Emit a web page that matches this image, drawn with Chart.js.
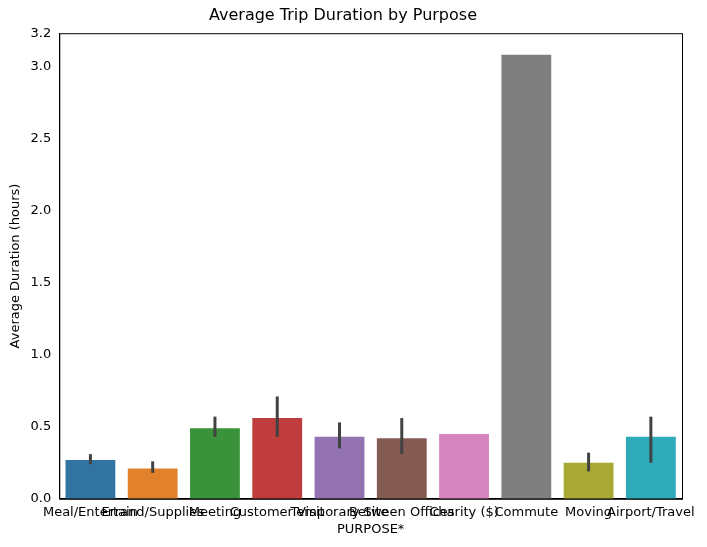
<!DOCTYPE html>
<html><head><meta charset="utf-8">
<script src="https://cdn.jsdelivr.net/npm/chart.js@4/dist/chart.umd.min.js"></script>
<style>body{margin:0;background:#fff}</style></head>
<body><canvas id="c" width="707" height="547"></canvas>
<script>
const categories=["Meal/Entertain","Errand/Supplies","Meeting","Customer Visit","Temporary Site","Between Offices","Charity ($)","Commute","Moving","Airport/Travel"];
const values=[0.27,0.21,0.49,0.56,0.43,0.42,0.45,3.08,0.25,0.43];
const errLow=[0.24,0.18,0.43,0.43,0.35,0.31,null,null,0.19,0.25];
const errHigh=[0.31,0.26,0.57,0.71,0.53,0.56,null,null,0.32,0.57];
const colors=["#3274a1","#e1812c","#3a923a","#c03d3e","#9372b2","#845b53","#d684bd","#7f7f7f","#a9aa35","#2eabb8"];
const F="DejaVu Sans";
const extras={id:'extras',afterDatasetsDraw(ch){
 const c=ch.ctx,x=ch.scales.x,y=ch.scales.y;
 c.save();c.strokeStyle='#424242';c.lineWidth=3;
 errLow.forEach((lo,i)=>{if(lo==null)return;const px=x.getPixelForValue(i);
  c.beginPath();c.moveTo(px,y.getPixelForValue(lo));c.lineTo(px,y.getPixelForValue(errHigh[i]));c.stroke();});
 const a=ch.chartArea;c.strokeStyle='#000';c.lineWidth=1;
 c.strokeRect(a.left+0.5,a.top+0.5,a.right-a.left,a.bottom-a.top);c.restore();}};
new Chart(document.getElementById('c'),{type:'bar',
 data:{labels:categories,datasets:[{data:values,backgroundColor:colors,barPercentage:0.8,categoryPercentage:1}]},
 options:{responsive:false,animation:false,
  layout:{padding:{left:4,right:25,top:4,bottom:6}},
  plugins:{legend:{display:false},tooltip:{enabled:false},
   title:{display:true,text:'Average Trip Duration by Purpose',color:'#000',font:{family:F,size:16,weight:'normal'},padding:{top:2,bottom:8}}},
  scales:{
   x:{grid:{display:false,drawTicks:true,tickLength:5},border:{color:'#000'},
      ticks:{color:'#000',font:{family:F,size:13},autoSkip:false,maxRotation:0,padding:1},
      title:{display:true,text:'PURPOSE*',color:'#000',font:{family:F,size:13},padding:{top:0}}},
   y:{min:0,max:3.23,grid:{display:false,tickLength:5},border:{color:'#000'},
      ticks:{stepSize:0.5,color:'#000',font:{family:F,size:13},callback:v=>v.toFixed(1)},
      title:{display:true,text:'Average Duration (hours)',color:'#000',font:{family:F,size:13}}}}},
 plugins:[extras]});
</script></body></html>
